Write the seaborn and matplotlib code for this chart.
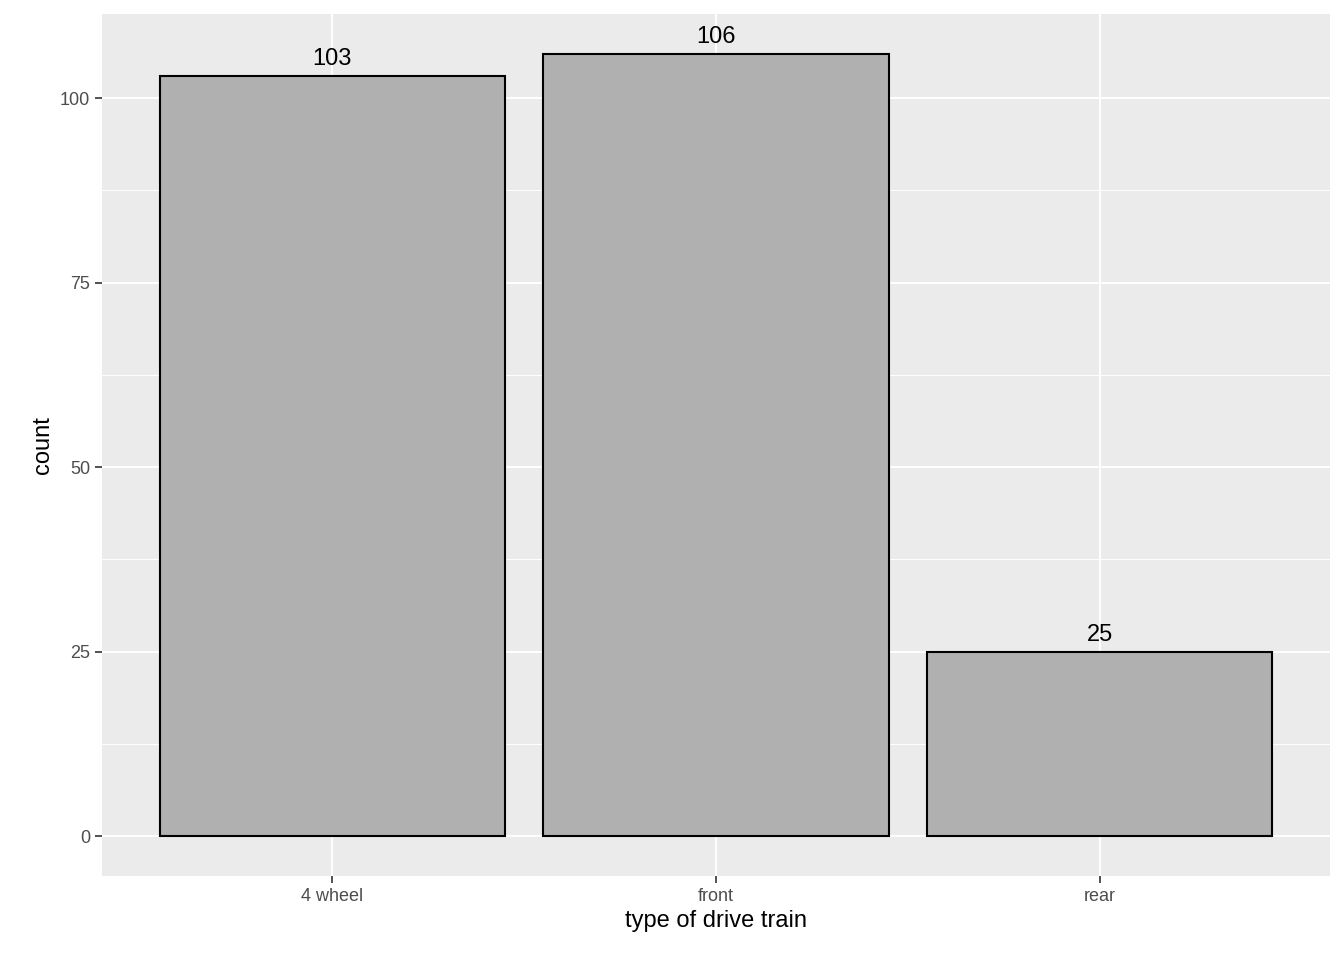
import matplotlib
matplotlib.use("Agg")
import matplotlib.pyplot as plt
import seaborn as sns
import pandas as pd

categories = ["4 wheel", "front", "rear"]
counts = [103, 106, 25]
df = pd.DataFrame({"drv": categories, "count": counts})

sns.set_theme(style="darkgrid")
plt.rcParams['font.family'] = ['Liberation Sans', 'DejaVu Sans']
fig = plt.figure(figsize=(13.44, 9.6), dpi=100)
ax = fig.add_axes([0.0759, 0.0875, 0.9137, 0.8979])
ax.set_facecolor("#EBEBEB")
sns.barplot(data=df, x="drv", y="count", color="#B0B0B0", edgecolor="black",
            linewidth=1.5, width=0.9, saturation=1, ax=ax, zorder=3)
for i, v in enumerate(counts):
    ax.text(i, v + 0.8, str(v), ha="center", va="bottom", fontsize=17, color="black", zorder=4)
ax.set_xlim(-0.6, 2.6)
ax.set_ylim(-5.4, 111.4)
ax.set_yticks([0, 25, 50, 75, 100])
ax.set_yticks([12.5, 37.5, 62.5, 87.5], minor=True)
ax.grid(which="major", color="white", linewidth=1.4, zorder=0)
ax.grid(which="minor", axis="y", color="white", linewidth=0.7, zorder=0)
ax.set_axisbelow(True)
for s in ax.spines.values():
    s.set_visible(False)
ax.tick_params(axis="both", which="major", length=5, color="#333333", labelsize=13,
               labelcolor="#4D4D4D", left=True, bottom=True, width=1.2)
ax.tick_params(which="minor", length=0)
ax.set_xlabel("type of drive train", fontsize=17, color="black")
ax.set_ylabel("count", fontsize=17, color="black")
fig.savefig("out.png", dpi=100, facecolor="white")
